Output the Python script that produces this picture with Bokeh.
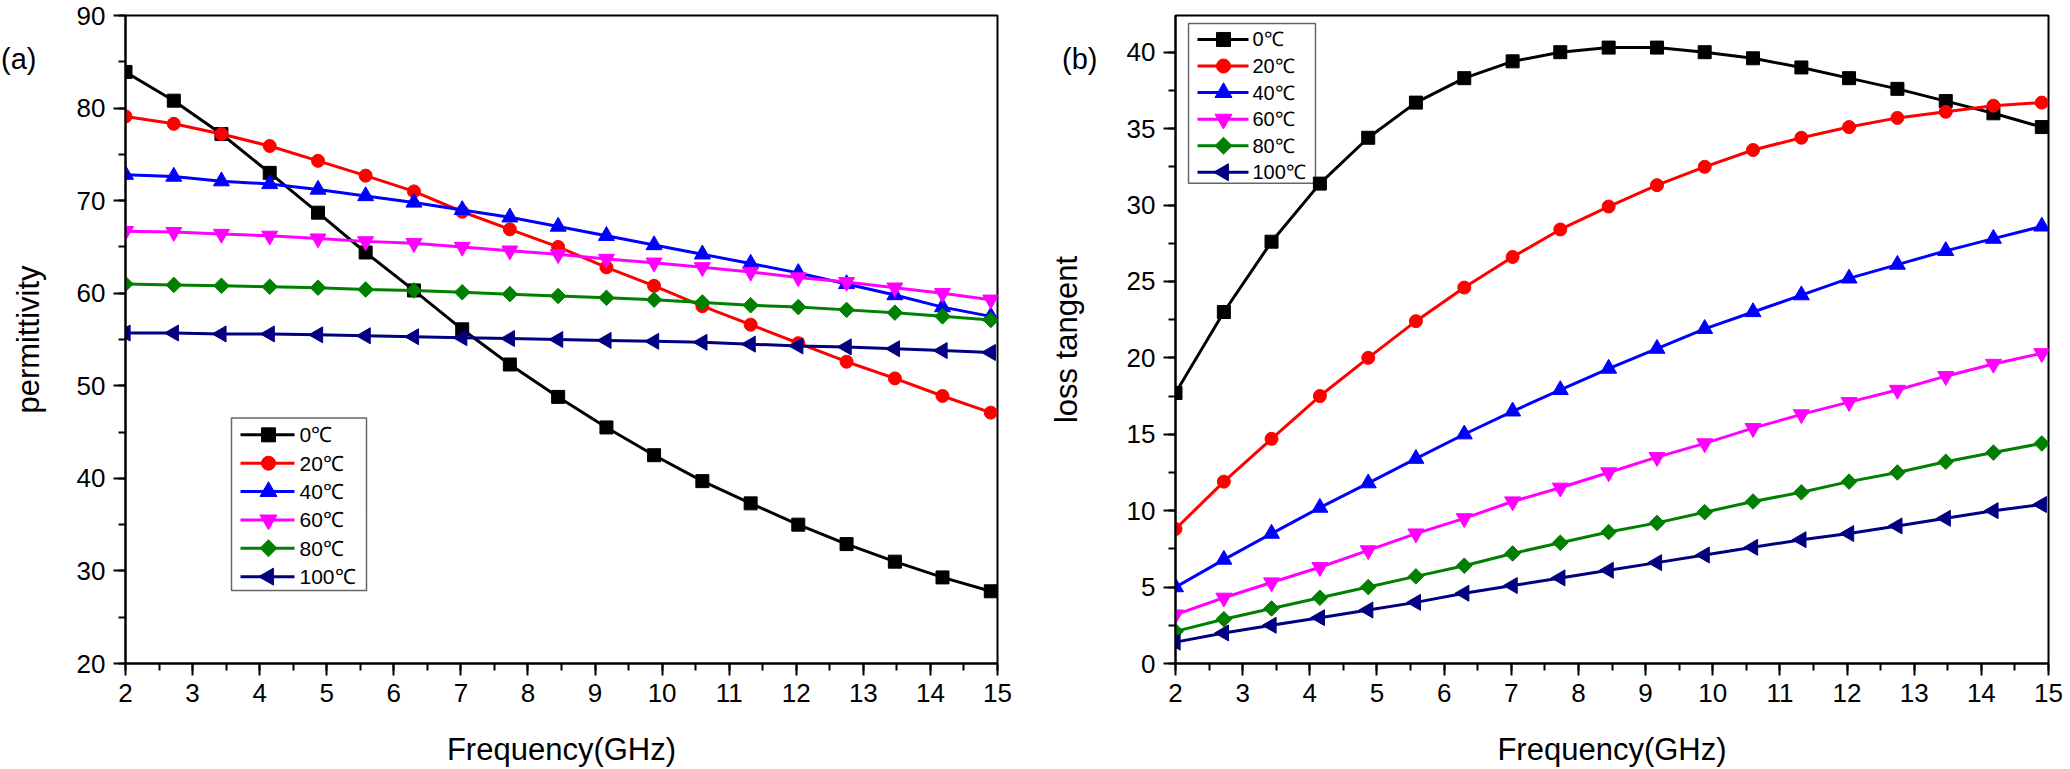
import math
from bokeh.plotting import figure
from bokeh.layouts import row
from bokeh.models import SingleIntervalTicker, Range1d, Div
from bokeh.core.properties import value
from bokeh.embed import file_html
from bokeh.resources import INLINE

# ---------------- data ----------------
freq = [2.0, 2.72, 3.43, 4.15, 4.87, 5.58, 6.3, 7.02, 7.73, 8.45,
        9.17, 9.88, 10.6, 11.32, 12.03, 12.75, 13.47, 14.18, 14.9]

series_labels = ["0℃", "20℃", "40℃", "60℃", "80℃", "100℃"]

perm_0 = [83.9, 80.8, 77.2, 73.0, 68.7, 64.4, 60.3, 56.1, 52.3, 48.8,
          45.5, 42.5, 39.7, 37.3, 35.0, 32.9, 31.0, 29.3, 27.8]
perm_20 = [79.1, 78.3, 77.2, 75.9, 74.3, 72.7, 71.0, 68.8, 66.9, 65.0,
           62.8, 60.8, 58.6, 56.6, 54.6, 52.6, 50.8, 48.9, 47.1]
perm_40 = [72.8, 72.6, 72.1, 71.8, 71.2, 70.5, 69.8, 69.0, 68.2, 67.2,
           66.2, 65.2, 64.2, 63.2, 62.2, 61.0, 59.8, 58.5, 57.5]
perm_60 = [66.7, 66.6, 66.4, 66.2, 65.9, 65.6, 65.4, 65.0, 64.6, 64.2,
           63.7, 63.3, 62.8, 62.3, 61.7, 61.2, 60.6, 60.0, 59.3]
perm_80 = [61.0, 60.9, 60.8, 60.7, 60.6, 60.4, 60.3, 60.1, 59.9, 59.7,
           59.5, 59.3, 59.0, 58.7, 58.5, 58.2, 57.9, 57.5, 57.1]
perm_100 = [55.7, 55.7, 55.6, 55.6, 55.5, 55.4, 55.3, 55.2, 55.1, 55.0,
            54.9, 54.8, 54.7, 54.5, 54.3, 54.2, 54.0, 53.8, 53.6]

loss_0 = [17.7, 23.0, 27.6, 31.4, 34.4, 36.7, 38.3, 39.4, 40.0, 40.3,
          40.3, 40.0, 39.6, 39.0, 38.3, 37.6, 36.8, 36.0, 35.1]
loss_20 = [8.8, 11.9, 14.7, 17.5, 20.0, 22.4, 24.6, 26.6, 28.4, 29.9,
           31.3, 32.5, 33.6, 34.4, 35.1, 35.7, 36.1, 36.5, 36.7]
loss_40 = [5.0, 6.8, 8.5, 10.2, 11.8, 13.4, 15.0, 16.5, 17.9, 19.3,
           20.6, 21.9, 23.0, 24.1, 25.2, 26.1, 27.0, 27.8, 28.6]
loss_60 = [3.2, 4.3, 5.3, 6.3, 7.4, 8.5, 9.5, 10.6, 11.5, 12.5,
           13.5, 14.4, 15.4, 16.3, 17.1, 17.9, 18.8, 19.6, 20.3]
loss_80 = [2.1, 2.9, 3.6, 4.3, 5.0, 5.7, 6.4, 7.2, 7.9, 8.6,
           9.2, 9.9, 10.6, 11.2, 11.9, 12.5, 13.2, 13.8, 14.4]
loss_100 = [1.4, 2.0, 2.5, 3.0, 3.5, 4.0, 4.6, 5.1, 5.6, 6.1,
            6.6, 7.1, 7.6, 8.1, 8.5, 9.0, 9.5, 10.0, 10.4]

perm_series = [perm_0, perm_20, perm_40, perm_60, perm_80, perm_100]
loss_series = [loss_0, loss_20, loss_40, loss_60, loss_80, loss_100]

panel_tags = ["(a)", "(b)"]

# ---------------- styles ----------------
colors = ["#000000", "#FF0000", "#0000FF", "#FF00FF", "#008000", "#000080"]
markers = [("square", 13, 0.0), ("circle", 13, 0.0), ("triangle", 16, 0.0),
           ("inverted_triangle", 16, 0.0), ("square", 11, math.pi / 4),
           ("triangle", 16, math.pi / 2)]

FONT = "Liberation Sans"
FIG_H = 769
B_TOP, B_BOT = 15, 105


def make_panel(series, y_range, y_interval, y_label, width, border_left, border_right,
               label_standoff, leg):
    frame_w = width - border_left - border_right
    frame_h = FIG_H - B_TOP - B_BOT
    p = figure(width=width, height=FIG_H, output_backend="svg", toolbar_location=None,
               x_range=Range1d(2, 15), y_range=Range1d(*y_range),
               min_border_left=border_left, min_border_right=border_right,
               min_border_top=B_TOP, min_border_bottom=B_BOT)
    # pixel space of the frame, used only to place the legend box
    p.extra_x_ranges = {"px": Range1d(0, frame_w)}
    p.extra_y_ranges = {"py": Range1d(0, frame_h)}

    p.grid.visible = False
    p.outline_line_color = "black"
    p.outline_line_width = 2
    p.background_fill_color = "white"
    p.border_fill_color = "white"

    p.xaxis.ticker = SingleIntervalTicker(interval=1, num_minor_ticks=2)
    p.yaxis.ticker = SingleIntervalTicker(interval=y_interval, num_minor_ticks=2)
    for ax in (p.xaxis[0], p.yaxis[0]):
        ax.axis_line_width = 2
        ax.axis_line_color = "black"
        ax.major_tick_line_width = 2
        ax.minor_tick_line_width = 2
        ax.major_tick_line_color = "black"
        ax.minor_tick_line_color = "black"
        ax.major_tick_out = 12
        ax.major_tick_in = 0
        ax.minor_tick_out = 7
        ax.minor_tick_in = 0
        ax.major_label_text_font = FONT
        ax.major_label_text_font_size = "26px"
        ax.major_label_text_color = "black"
        ax.major_label_standoff = 8
        ax.axis_label_text_font = FONT
        ax.axis_label_text_font_size = "31px"
        ax.axis_label_text_font_style = "normal"
        ax.axis_label_text_color = "black"
    p.xaxis.axis_label = "Frequency(GHz)"
    p.xaxis.axis_label_standoff = 27
    p.yaxis.axis_label = y_label
    p.yaxis.axis_label_standoff = label_standoff

    # legend box (below the data so that data markers sit on top of it)
    bx0, bx1, by0, by1 = leg["box"]
    p.quad(left=[bx0], right=[bx1], bottom=[by0], top=[by1],
           fill_color="white", line_color="#666666", line_width=1.5,
           x_range_name="px", y_range_name="py")

    for ys, col, (mk, sz, ang) in zip(series, colors, markers):
        p.line(freq, ys, line_color=col, line_width=3)
        p.scatter(freq, ys, marker=mk, size=sz, angle=ang,
                  fill_color=col, line_color=col, line_width=1)

    # legend entries
    lx0, lx1, mx, tx = leg["line_x0"], leg["line_x1"], leg["marker_x"], leg["text_x"]
    for i, (lab, col, (mk, sz, ang)) in enumerate(zip(series_labels, colors, markers)):
        yy = leg["row0"] - i * leg["pitch"]
        p.line([lx0, lx1], [yy, yy], line_color=col, line_width=3,
               x_range_name="px", y_range_name="py")
        p.scatter([mx], [yy], marker=mk, size=sz + 1, angle=ang,
                  fill_color=col, line_color=col, line_width=1,
                  x_range_name="px", y_range_name="py")
        p.text([tx], [yy], text=[lab], text_font=value(FONT),
               text_font_size=leg["font"], text_color="black",
               text_baseline="middle", text_align="left",
               x_range_name="px", y_range_name="py")
    return p


left_leg = dict(box=(106, 241, 73, 246), line_x0=115, line_x1=169, marker_x=143,
                text_x=174, row0=229, pitch=28.4, font="21px")
right_leg = dict(box=(13, 140, 481, 641), line_x0=22, line_x1=73, marker_x=48,
                 text_x=77, row0=625, pitch=26.6, font="20px")

left = make_panel(perm_series, (20, 90), 10, "permittivity", 1040, 125, 43, 28, left_leg)
right = make_panel(loss_series, (0, 42.4), 5, "loss tangent", 1030, 135, 22, 40, right_leg)


def tag_div(text, left_px, top_px):
    return Div(text=text, styles={"position": "absolute", "left": f"{left_px}px",
                                  "top": f"{top_px}px", "font-size": "29px",
                                  "font-family": "Liberation Sans", "color": "black",
                                  "z-index": "10"})


tag_a = tag_div(panel_tags[0], -4, 34)
tag_b = tag_div(panel_tags[1], 1057, 34)

layout = row(left, right, tag_a, tag_b, spacing=0)

open("out.html", "w").write(file_html(layout, INLINE))
